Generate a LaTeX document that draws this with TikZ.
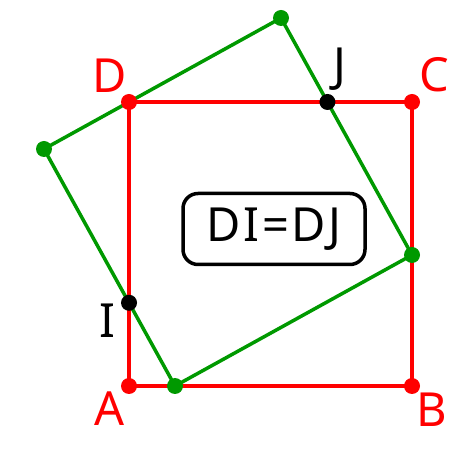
\documentclass[tikz,border=0pt]{standalone}
\usepackage{fontspec}
\setmainfont{Noto Sans}[LetterSpace=6]
\begin{document}
\begin{tikzpicture}[x=1pt, y=1pt, line width=3.5pt,
  lbl/.style={font=\fontsize{47}{47}\selectfont},
  dot/.style={circle, fill, inner sep=0pt, minimum size=16pt}]
\useasboundingbox (0,0) rectangle (474,474);
\coordinate (A) at (129,88);
\coordinate (B) at (412,88);
\coordinate (C) at (412,372);
\coordinate (D) at (129,372);
\coordinate (P) at (175,88);
\coordinate (Q) at (412,219);
\coordinate (R) at (281,456);
\coordinate (S) at (44,325);
\coordinate (I) at (intersection of P--S and A--D);
\coordinate (J) at (intersection of Q--R and D--C);
\draw [red] (A) -- (B) -- (C) -- (D) -- cycle;
\draw [green!60!black] (P) -- (Q) -- (R) -- (S) -- cycle;
\foreach \p in {A,B,C,D} \node [dot, red] at (\p) {};
\foreach \p in {P,Q,R,S} \node [dot, green!60!black] at (\p) {};
\foreach \p in {I,J} \node [dot, black] at (\p) {};
\node [lbl, red] (la) at (110,65) {A};
\node [lbl, red] (lb) at (432,64) {B};
\node [lbl, red] (lc) at (434,399) {C};
\node [lbl, red] (ld) at (110,398) {D};
\node [lbl] (li) at (107,153) {I};
\node [lbl] (lj) at (340,405) {J};
\node [lbl, draw, rounded corners=15pt, minimum width=182pt, minimum height=71pt] (eq) at (274,245) {DI=DJ};
\end{tikzpicture}
\end{document}
